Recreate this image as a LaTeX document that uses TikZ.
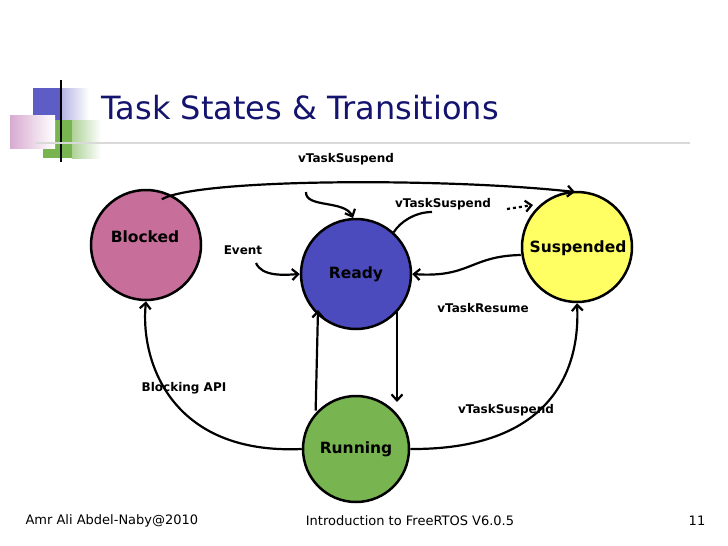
\documentclass[tikz,border=0pt]{standalone}
\usepackage{fontspec}
\setmainfont{DejaVu Sans}
\usetikzlibrary{arrows.meta}
\definecolor{navy}{RGB}{20,20,110}
\definecolor{blk}{RGB}{200,110,155}
\definecolor{rdy}{RGB}{75,75,190}
\definecolor{sus}{RGB}{255,255,100}
\definecolor{run}{RGB}{120,180,80}
\begin{document}
\begin{tikzpicture}[x=1pt,y=-1pt,
 state/.style={circle,draw,line width=2.5pt,minimum size=110pt,inner sep=0pt,font=\bfseries\fontsize{15.5}{18}\selectfont},
 lbl/.style={font=\bfseries\fontsize{12}{14}\selectfont},
 arr/.style={line width=2.2pt,-{Straight Barb[length=6pt,width=11pt]}}]
\useasboundingbox (0,0) rectangle (728,546);
% logo
\fill[rdy!90] (33,88) rectangle (62,120);
\shade[left color=rdy!40,right color=white] (62,88) rectangle (89,120);
\fill[run] (43,120) rectangle (72,158);
\shade[left color=run!60,right color=white] (72,120) rectangle (101,158);
\shade[left color=blk!40!violet!40,right color=white] (10,115) rectangle (55,148);
\draw[line width=1.5pt] (61,80) -- (61,162);
\draw[gray!30,line width=1.5pt] (35,143) -- (690,143);
\node[anchor=west,text=navy,font=\fontsize{32}{36}\selectfont] (title) at (98,108) {Task States \& Transitions};
% states
\node[state,fill=blk] (b) at (146,245) {};
\node[font=\bfseries\fontsize{15.5}{18}\selectfont] (bt) at (145,237) {Blocked};
\node[state,fill=rdy] (r) at (356,274) {Ready};
\node[state,fill=sus] (s) at (577,247) {};
\node[font=\bfseries\fontsize{15.5}{18}\selectfont] (st) at (578,248) {Suspended};
\node[state,fill=run,minimum size=106pt] (u) at (356,449) {Running};
% labels
\node[lbl] (l1) at (346,159) {vTaskSuspend};
\node[lbl] (l2) at (443,204) {vTaskSuspend};
\node[lbl] (l3) at (243,250) {Event};
\node[lbl] (l4) at (483,308) {vTaskResume};
\node[lbl] (l5) at (184,388) {Blocking API};
\node[lbl] (l6) at (506,410) {vTaskSuspend};
% arrows
\draw[arr] (b.north east) ++(-24,-6) .. controls (200,178) and (450,178) .. (575,192);
\coordinate (a1) at (306,192);
\draw[arr] (a1) .. controls (305,208) and (345,200) .. (353,218);
\draw[line width=2.2pt] (r.north east) ++(-2,-2) .. controls (400,222) and (415,212) .. (432,212);
\coordinate (d1) at (507,209); \coordinate (d2) at (533,205);
\draw[arr,dashed] (d1) -- (d2);
\coordinate (e1) at (256,263);
\draw[arr] (e1) .. controls (262,277) and (285,275) .. (r.west);
\draw[arr] (s.west) ++(0,8) .. controls (470,256) and (470,278) .. (r.east);
\draw[arr] (u.north west) ++(-2,0) -- (318,310);
\draw[arr] (397,312) -- (397,402);
\draw[arr] (u.west) .. controls (170,455) and (140,360) .. (b.south);
\draw[arr] (u.east) .. controls (560,450) and (580,360) .. (s.south);
% footer
\node[anchor=west,font=\fontsize{13}{15}\selectfont] (f1) at (22,521) {Amr Ali Abdel-Naby@2010};
\node[font=\fontsize{13}{15}\selectfont] (f2) at (410,521) {Introduction to FreeRTOS V6.0.5};
\node[font=\fontsize{13}{15}\selectfont] (f3) at (697,521) {11};
\end{tikzpicture}
\end{document}
